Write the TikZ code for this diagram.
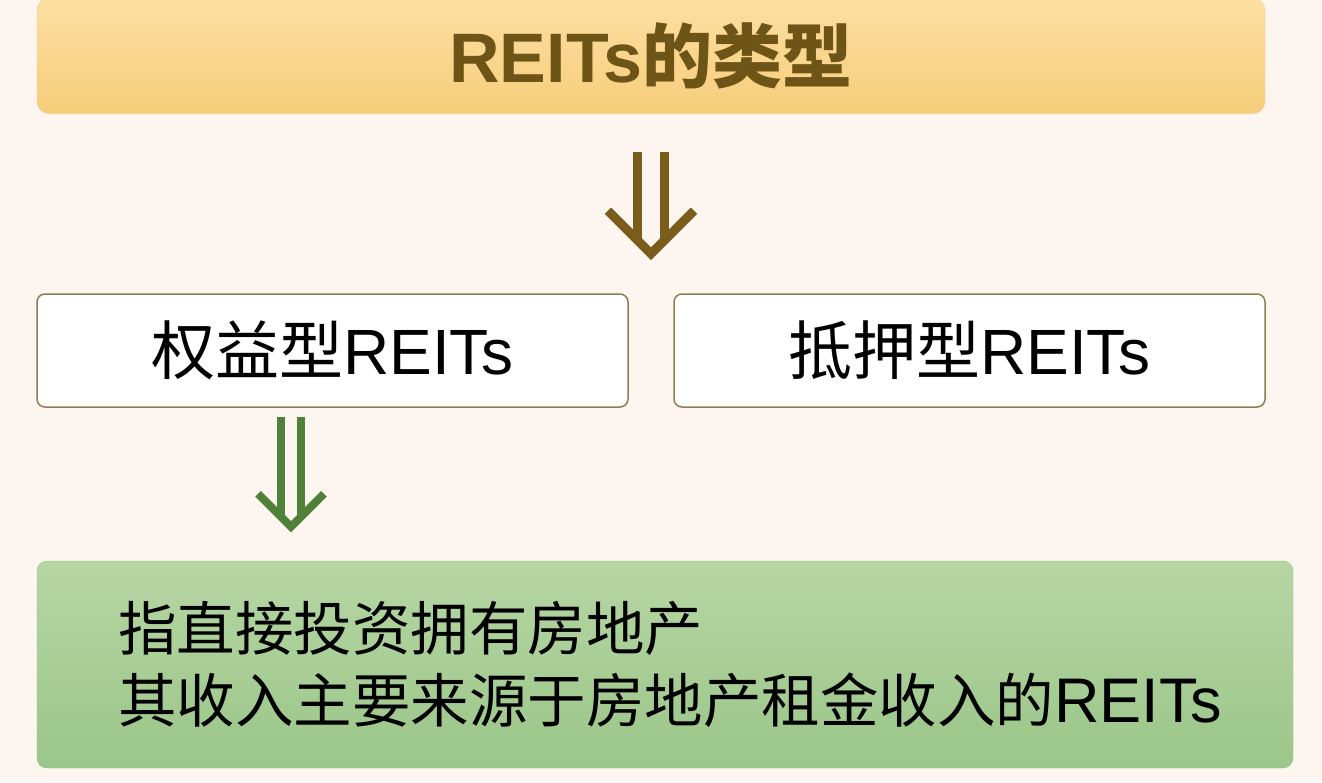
\documentclass[tikz,border=0pt]{standalone}
\usepackage{fontspec}
\setmainfont{Noto Sans CJK SC}
\newfontfamily\latinfont{Liberation Sans}
\usepackage{tikz}
\usetikzlibrary{calc}

\definecolor{bgcream}{HTML}{FDF5EF}
\definecolor{titletop}{HTML}{FCDFA2}
\definecolor{titlebot}{HTML}{F7CD7B}
\definecolor{titleedge}{HTML}{F1CB80}
\definecolor{titletext}{HTML}{6E5517}
\definecolor{kindedge}{HTML}{8E7D52}
\definecolor{notetop}{HTML}{B6D6A4}
\definecolor{notebot}{HTML}{9BC689}
\definecolor{noteedge}{HTML}{96BE84}
\definecolor{brownarrow}{HTML}{7A5D1B}
\definecolor{greenarrow}{HTML}{4F8238}

\newcommand{\reits}{{\latinfont REITs}}

% double shaft arrow: colour, start, tip, half gap, half head
\newcommand{\dblarrow}[5]{%
  \foreach \s in {-1,1} {\draw[#1] ($(#2)+(\s*#4,0)$) -- ($(#3)+(\s*#4,-#4)$);};
  \draw[#1,line join=miter] ($(#3)+(-#5,-#5)$) -- (#3) -- ($(#3)+(#5,-#5)$);
}

\begin{document}
\begin{tikzpicture}[x=1pt,y=-1pt,
    titlebox/.style={rounded corners=12pt,draw=titleedge,top color=titletop,bottom color=titlebot,
      minimum width=1228pt,minimum height=115pt,text=titletext,
      font=\fontsize{70}{72}\selectfont\bfseries},
    kindbox/.style={rounded corners=8pt,draw=kindedge,line width=1.5pt,fill=white,
      minimum width=591pt,minimum height=113pt,font=\fontsize{64}{70}\selectfont},
    notebox/.style={rounded corners=10pt,draw=noteedge,top color=notetop,bottom color=notebot,
      text width=1094pt,inner xsep=81pt,minimum height=207pt,align=left,
      font=\fontsize{58.5}{72}\selectfont},
    brownflow/.style={draw=brownarrow,line width=9pt},
    greenflow/.style={draw=greenarrow,line width=8pt}
  ]
  \fill[bgcream] (0,0) rectangle (1322,782);
  \useasboundingbox (0,0) rectangle (1322,782);

  \node[titlebox] (types) at (651,56) {\reits 的类型};
  \node[kindbox] (equity) at (332.5,350.5) {权益型\reits};
  \node[kindbox] (mortgage) at (969.5,350.5) {抵押型\reits};
  \node[notebox] (equitynote) at (665,664.5) {指直接投资拥有房地产\\其收入主要来源于房地产租金收入的{\fontsize{63}{72}\selectfont\reits}};

  \coordinate (typesfrom) at ($(types.south)+(0,38)$);
  \coordinate (typestip) at ($(types.south)+(0,140)$);
  \coordinate (equityfrom) at ($(equity.south)+(-41.5,9)$);
  \coordinate (equitytip) at ($(equitynote.north)+(-374,-34)$);

  \dblarrow{brownflow}{typesfrom}{typestip}{13.5}{43}
  \dblarrow{greenflow}{equityfrom}{equitytip}{10}{33}
\end{tikzpicture}
\end{document}
